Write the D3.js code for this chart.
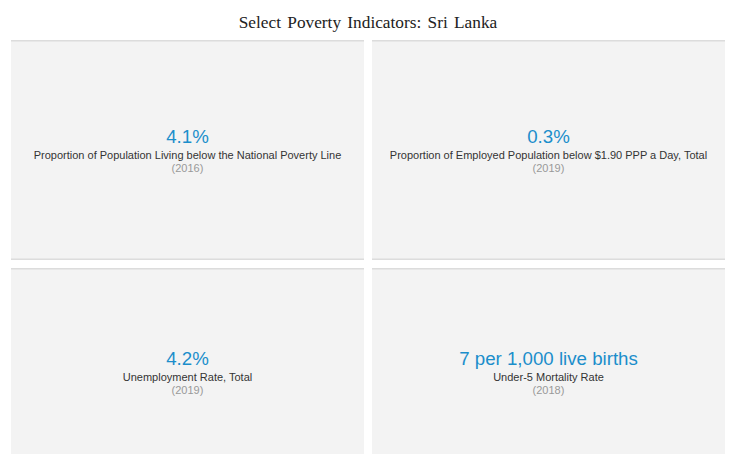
<!DOCTYPE html><html><head><meta charset="utf-8">
<script src="https://cdn.jsdelivr.net/npm/d3@7"></script>
<style>body{margin:0;background:#fff}</style></head><body>
<svg id="c" width="736" height="454"></svg>
<script>
const values=["4.1%","0.3%","4.2%","7 per 1,000 live births"];
const labels=["Proportion of Population Living below the National Poverty Line","Proportion of Employed Population below $1.90 PPP a Day, Total","Unemployment Rate, Total","Under-5 Mortality Rate"];
const years=["(2016)","(2019)","(2019)","(2018)"];
const svg=d3.select("#c");
svg.append("text").attr("x",368).attr("y",28).attr("text-anchor","middle")
 .style("font-family","Liberation Serif").style("font-size","17.3px").style("word-spacing","2px").attr("fill","#222").text("Select Poverty Indicators: Sri Lanka");
const panels=[{x:11,y:40,h:220,cy:137},{x:372,y:40,h:220,cy:137},{x:11,y:268,h:186,cy:359},{x:372,y:268,h:186,cy:359}];
const W=353;
panels.forEach((p,i)=>{
 const g=svg.append("g");
 g.append("rect").attr("x",p.x).attr("y",p.y).attr("width",W).attr("height",p.h).attr("fill","#f3f3f3");
 g.append("rect").attr("x",p.x).attr("y",p.y).attr("width",W).attr("height",1.5).attr("fill","#dcdcdc");
 if(i<2) g.append("rect").attr("x",p.x).attr("y",p.y+p.h-1.5).attr("width",W).attr("height",1.5).attr("fill","#dcdcdc");
 const cx=p.x+W/2;
 g.append("text").attr("x",cx).attr("y",p.cy+6).attr("text-anchor","middle").style("font-family","Liberation Sans").style("font-size","18.7px").attr("fill","#1b8ecb").text(values[i]);
 g.append("text").attr("x",cx).attr("y",p.cy+22).attr("text-anchor","middle").style("font-family","Liberation Sans").style("font-size","11px").attr("fill","#333").text(labels[i]);
 g.append("text").attr("x",cx).attr("y",p.cy+35).attr("text-anchor","middle").style("font-family","Liberation Sans").style("font-size","11px").attr("fill","#999").text(years[i]);
});
</script></body></html>
